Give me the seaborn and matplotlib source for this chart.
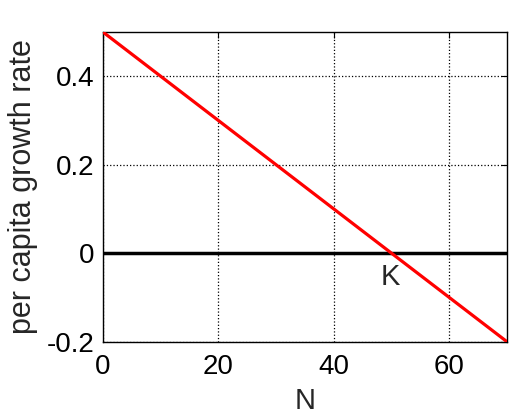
import numpy as np
import pandas as pd
import matplotlib
matplotlib.use("Agg")
import matplotlib.pyplot as plt
import seaborn as sns

# logistic per capita growth: r(1 - N/K), r = 0.5, K = 50
N = [0, 70]
growth_rate = [0.5, -0.2]
x_ticks = [0, 20, 40, 60]
y_ticks = [-0.2, 0, 0.2, 0.4]
y_tick_labels = ["-0.2", "0", "0.2", "0.4"]
K = 50

sns.set_style("white")
plt.rcParams['font.family'] = ['Liberation Sans', 'DejaVu Sans']

df = pd.DataFrame({"N": N, "rate": growth_rate})

fig = plt.figure(figsize=(5.3, 4.2), dpi=100)
ax = fig.add_axes([0.194, 0.186, 0.763, 0.738])

ax.axhline(0, color='black', linewidth=2.5, zorder=2)
sns.lineplot(x='N', y='rate', data=df, color='red', linewidth=2.3, ax=ax, zorder=3)
ax.text(K - 0.3, -0.053, "K", fontsize=21, ha='center', va='center')

ax.set_xlim(0, 70)
ax.set_ylim(-0.2, 0.5)
ax.set_xticks(x_ticks)
ax.set_yticks(y_ticks)
ax.set_yticklabels(y_tick_labels)
ax.grid(True, linestyle=':', color='black', linewidth=0.9)
ax.tick_params(direction='in', length=4, width=0.8, labelsize=20,
               top=True, right=True, colors='black')
ax.tick_params(axis='x', pad=9)
ax.tick_params(axis='y', pad=6)
for s in ax.spines.values():
    s.set_color('black')
    s.set_linewidth(1.0)

ax.set_xlabel("N", fontsize=21, labelpad=5)
ax.set_ylabel("per capita growth rate", fontsize=22, labelpad=6)

fig.savefig("out.png", dpi=100)
